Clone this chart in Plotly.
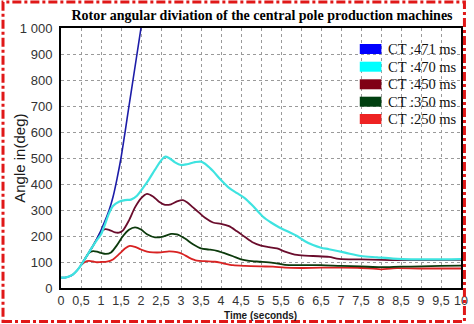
import plotly.graph_objects as go

# ---- data: rotor angle (deg) versus time (s) for each clearing time ----
t_471 = [0, 0.1, 0.2, 0.3, 0.4, 0.5, 0.6, 0.7, 0.8, 0.9, 1.0, 1.1, 1.2, 1.3, 1.4,
         1.5, 1.6, 1.7, 1.8, 1.9, 2.0]
a_471 = [40, 40, 44, 52, 67, 88, 112, 137, 162, 190, 222, 258, 298, 350, 420,
         500, 598, 700, 800, 900, 1000]

t_470 = [0, 0.1, 0.2, 0.3, 0.4, 0.5, 0.6, 0.7, 0.8, 0.9, 1.0, 1.1, 1.2, 1.3, 1.45,
         1.6, 1.75, 1.9, 2.05, 2.2, 2.35, 2.5, 2.6, 2.7, 2.85, 3.0, 3.15, 3.35, 3.5,
         3.65, 3.8, 4.0, 4.2, 4.4, 4.6, 4.8, 5.05, 5.25, 5.46, 5.7, 5.9, 6.1, 6.3,
         6.5, 6.7, 7.1, 7.5, 7.9, 8.3, 8.75, 9.2, 9.6, 10]
a_470 = [40, 40, 44, 52, 67, 88, 112, 137, 162, 185, 207, 245, 287, 315, 332,
         338, 340, 355, 385, 418, 455, 490, 505, 500, 483, 473, 476, 484, 486,
         472, 450, 415, 385, 365, 345, 315, 274, 252, 233, 215, 200, 180, 165,
         155, 149, 136, 123, 118, 113, 110, 110, 110, 111]

t_450 = [0.5, 0.6, 0.7, 0.8, 0.9, 1.0, 1.1, 1.2, 1.35, 1.45, 1.55, 1.7, 1.85, 2.0,
         2.15, 2.3, 2.45, 2.6, 2.75, 2.9, 3.05, 3.15, 3.3, 3.45, 3.6, 3.8, 4.0,
         4.2, 4.4, 4.6, 4.8, 5.0, 5.2, 5.4, 5.6, 5.9, 6.3, 6.7, 6.95, 7.5, 8.0,
         8.5, 9.0, 10]
a_450 = [88, 112, 137, 162, 190, 215, 226, 224, 214, 213, 222, 260, 310, 345,
         362, 352, 332, 320, 322, 333, 338, 330, 310, 290, 270, 252, 247,
         238, 218, 196, 175, 163, 157, 152, 140, 127, 123, 120, 112, 110, 108,
         107, 107, 108]

t_350 = [0.5, 0.6, 0.7, 0.8, 0.9, 1.0, 1.12, 1.25, 1.4, 1.55, 1.7, 1.85, 2.0, 2.15,
         2.35, 2.55, 2.75, 2.9, 3.1, 3.3, 3.5, 3.7, 3.9, 4.1, 4.3, 4.5, 4.7, 5.0,
         5.3, 5.6, 6.0, 6.5, 7.0, 7.5, 8.0, 8.5, 9.0, 9.5, 10]
a_350 = [88, 112, 135, 142, 140, 135, 131, 137, 165, 200, 224, 233, 225, 207,
         195, 198, 208, 206, 190, 168, 152, 148, 143, 133, 122, 110, 104, 101,
         97, 89, 88, 88, 85, 83, 80, 82, 83, 85, 86]

t_250 = [0.5, 0.6, 0.7, 0.8, 0.9, 1.0, 1.15, 1.3, 1.45, 1.6, 1.72, 1.85, 2.0, 2.15,
         2.3, 2.5, 2.7, 2.9, 3.05, 3.2, 3.4, 3.6, 3.85, 4.05, 4.3, 4.6, 5.0, 5.3,
         5.6, 6.0, 6.5, 7.0, 7.5, 7.8, 8.0, 8.3, 9.0, 10]
a_250 = [88, 100, 104, 102, 99, 100, 101, 110, 130, 152, 162, 158, 148, 140,
         137, 137, 141, 138, 130, 117, 105, 103, 101, 95, 88, 85, 83, 82,
         78, 77, 78, 78, 77, 75, 72, 76, 75, 75]

series_names = ["CT :471 ms", "CT :470 ms", "CT :450 ms", "CT :350 ms", "CT :250 ms"]
line_colors = ["#1c1ca8", "#3ee3e0", "#6a0c2c", "#0c3a0c", "#d82222"]
key_colors = ["#0000ff", "#00ffff", "#800015", "#004010", "#ee2222"]
line_widths = [1.6, 2.2, 1.8, 1.8, 1.8]

x_ticks = [0, 0.5, 1, 1.5, 2, 2.5, 3, 3.5, 4, 4.5, 5, 5.5, 6, 6.5, 7, 7.5, 8,
           8.5, 9, 9.5, 10]
x_tick_text = ["0", "0,5", "1", "1,5", "2", "2,5", "3", "3,5", "4", "4,5", "5",
               "5,5", "6", "6,5", "7", "7,5", "8", "8,5", "9", "9,5", "10"]
y_ticks = [0, 100, 200, 300, 400, 500, 600, 700, 800, 900, 1000]
y_tick_text = ["0", "100", "200", "300", "400", "500", "600", "700", "800",
               "900", "1 000"]

# ---- page geometry (pixels) ----
WIDTH, HEIGHT = 474, 324
M_L, M_R, M_T, M_B = 61, 6, 28, 36
PW = WIDTH - M_L - M_R
PH = HEIGHT - M_T - M_B


def px_x(p):
    return (p - M_L) / PW


def px_y(p):
    return (HEIGHT - M_B - p) / PH


fig = go.Figure()

xs = [t_471, t_470, t_450, t_350, t_250]
ys = [a_471, a_470, a_450, a_350, a_250]
# draw lower curves first so the cyan curve sits on top of the shared start
for i in [4, 3, 2, 0, 1]:
    fig.add_trace(go.Scatter(
        x=xs[i], y=ys[i], mode="lines", name=series_names[i],
        line=dict(color=line_colors[i], width=line_widths[i], shape="spline",
                  smoothing=0.8),
        showlegend=False, hoverinfo="skip"))

shapes = []
annotations = []

# key boxes with labels at the upper right
key_x0, key_x1 = 365, 387
key_y = [49, 66.7, 84.3, 101.7, 119]
for name, col, yc in zip(series_names, key_colors, key_y):
    shapes.append(dict(type="rect", xref="paper", yref="paper",
                       x0=px_x(key_x0), x1=px_x(key_x1),
                       y0=px_y(yc + 5), y1=px_y(yc - 5),
                       fillcolor=col, line=dict(width=0)))
    annotations.append(dict(xref="paper", yref="paper", x=px_x(392), y=px_y(yc),
                            xanchor="left", yanchor="middle", showarrow=False,
                            text=name,
                            font=dict(family="Liberation Serif", size=14.5,
                                      color="#111111")))

# red dash-dot frame round the whole figure
shapes.append(dict(type="rect", xref="paper", yref="paper",
                   x0=px_x(2), x1=px_x(471.5), y0=px_y(321.5), y1=px_y(2),
                   line=dict(color="#e01818", width=3, dash="dashdot"),
                   fillcolor="rgba(0,0,0,0)", layer="above"))

annotations.append(dict(xref="paper", yref="paper", x=px_x(18), y=0.5,
                        textangle=-90, showarrow=False, text="Angle in(deg)",
                        xanchor="center", yanchor="middle",
                        font=dict(family="Liberation Sans", size=15,
                                  color="#1a1a1a")))
annotations.append(dict(xref="paper", yref="paper", x=px_x(264), y=px_y(315),
                        showarrow=False, text="<b>Time (seconds)</b>",
                        xanchor="center", yanchor="middle", borderpad=0,
                        font=dict(family="Liberation Sans", size=10,
                                  color="#1a1a1a")))

axis_common = dict(
    showline=True, linecolor="black", linewidth=2, mirror=True,
    showgrid=True, gridcolor="#9a9a9a", gridwidth=1, griddash="3px,3px",
    zeroline=False, ticks="outside", tickcolor="rgba(0,0,0,0)",
)

fig.update_layout(
    width=WIDTH, height=HEIGHT,
    margin=dict(l=M_L, r=M_R, t=M_T, b=M_B),
    paper_bgcolor="white", plot_bgcolor="white",
    title=dict(text="<b>Rotor angular diviation of the central pole production machines</b>",
               x=262 / WIDTH, xanchor="center", y=1 - 15 / HEIGHT,
               yanchor="middle",
               font=dict(family="Liberation Serif", size=14, color="black")),
    xaxis=dict(range=[0, 10], tickvals=x_ticks, ticktext=x_tick_text,
               ticklen=0,
               tickfont=dict(family="Liberation Sans", size=12.5, color="#333333"),
               **axis_common),
    yaxis=dict(range=[0, 1000], tickvals=y_ticks, ticktext=y_tick_text,
               ticklen=4,
               tickfont=dict(family="Liberation Sans", size=13, color="#333333"),
               **axis_common),
    shapes=shapes, annotations=annotations,
    showlegend=False,
)

fig.write_html("out.html")
